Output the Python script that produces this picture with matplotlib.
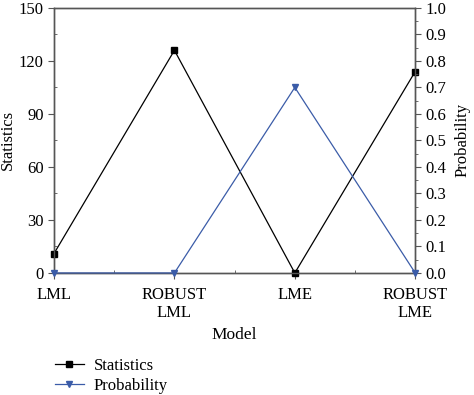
import matplotlib.pyplot as plt
from matplotlib.ticker import MultipleLocator

plt.rcParams['font.family'] = ['Liberation Serif', 'DejaVu Serif']

models = ['LML', 'ROBUST\nLML', 'LME', 'ROBUST\nLME']
statistics = [11, 126, 0, 114]
probability = [0.0, 0.0, 0.70, 0.0]

BLUE = '#3b5ca8'

fig = plt.figure(figsize=(4.74, 3.95), dpi=100)
ax = fig.add_axes([0.114, 0.309, 0.762, 0.671])
ax2 = ax.twinx()

x = list(range(len(models)))
l1, = ax.plot(x, statistics, color='black', lw=0.9, marker='s', ms=4.5, label='Statistics', clip_on=False, zorder=5)
l2, = ax2.plot(x, probability, color=BLUE, lw=0.9, marker='v', ms=5, label='Probability', clip_on=False, zorder=5)

ax.set_xlim(0, 3)
ax.set_ylim(0, 150)
ax2.set_ylim(0, 1.0)
ax.set_xticks(x)
ax.set_xticklabels(models, fontsize=12, linespacing=1.2)
ax.xaxis.set_minor_locator(MultipleLocator(0.5))
ax.yaxis.set_major_locator(MultipleLocator(30))
ax.yaxis.set_minor_locator(MultipleLocator(15))
ax2.yaxis.set_major_locator(MultipleLocator(0.1))
ax2.yaxis.set_minor_locator(MultipleLocator(0.05))
ax2.yaxis.set_major_formatter(plt.FuncFormatter(lambda v, p: '{:.1f}'.format(v)))

ax.tick_params(axis='y', which='major', direction='out', length=4, labelsize=12, color='#555555')
ax.tick_params(axis='y', which='minor', direction='in', length=2, color='#555555')
ax.tick_params(axis='x', which='major', direction='out', length=4, pad=6, labelsize=12, color='#555555')
ax.tick_params(axis='x', which='minor', direction='in', length=2, color='#555555')
ax2.tick_params(axis='y', which='major', direction='out', length=4, labelsize=12, color='#555555')
ax2.tick_params(axis='y', which='minor', direction='out', length=2, color='#555555')

for a in (ax, ax2):
    for s in a.spines.values():
        s.set_color('#555555')
        s.set_linewidth(1.0)

ax.set_ylabel('Statistics', fontsize=12, labelpad=2)
ax2.set_ylabel('Probability', fontsize=12, labelpad=6)
ax.set_xlabel('Model', fontsize=12.5, labelpad=4)

fig.legend(handles=[l1, l2], loc='lower left', bbox_to_anchor=(0.085, -0.035),
           frameon=False, fontsize=12, handlelength=1.7, handletextpad=0.6,
           labelspacing=0.25)

fig.savefig('out.png', dpi=100)
